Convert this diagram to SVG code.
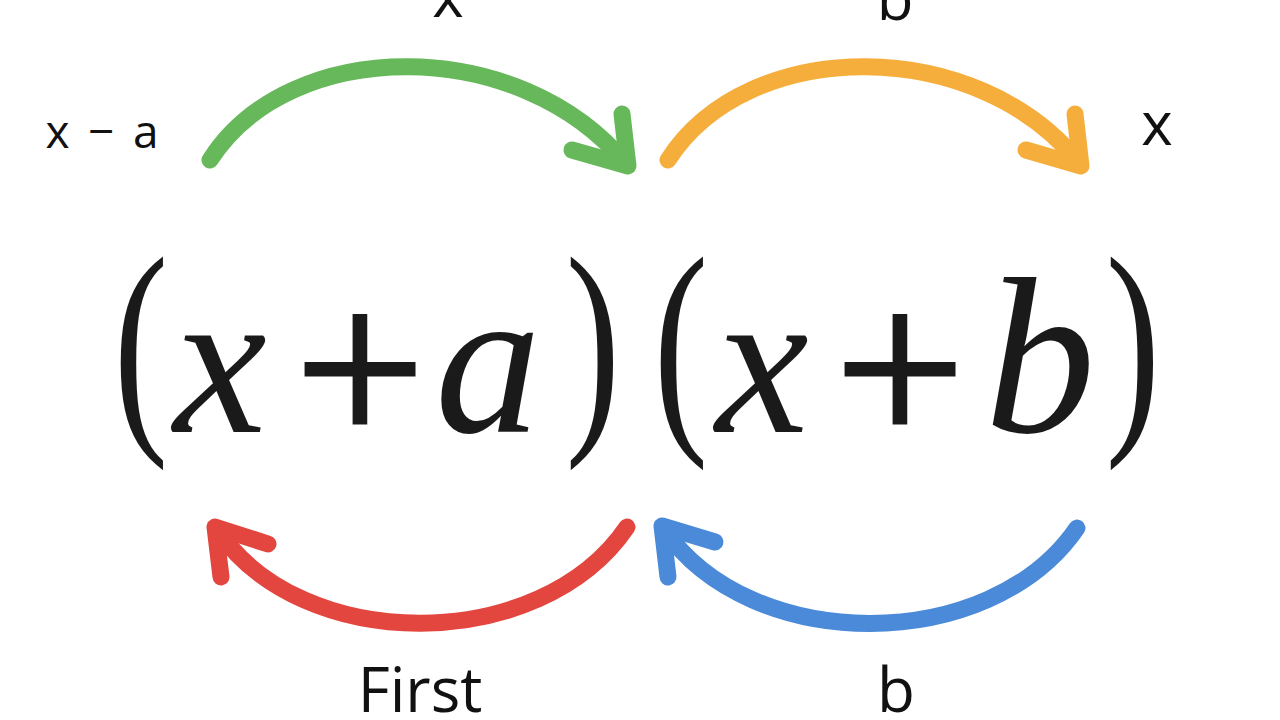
<svg xmlns="http://www.w3.org/2000/svg" width="1280" height="720" viewBox="0 0 1280 720">
<style>
.math{font-family:"Liberation Serif","DejaVu Serif",serif;fill:#1a1a1a;text-anchor:middle}
.it{font-style:italic}
.plus{stroke:#1a1a1a;stroke-width:3}
.lbl{font-family:"Open Sans","Noto Sans","Liberation Sans",sans-serif;fill:#111;text-anchor:middle}
.arc{fill:none;stroke-width:17;stroke-linecap:round;stroke-linejoin:round}
</style>
<rect width="1280" height="720" fill="#ffffff"/>
<g id="expression">
<text class="math" transform="translate(141,420) scale(0.7,1)" font-size="235">(</text>
<text class="math it" x="220" y="432" font-size="210">x</text>
<text class="math plus" x="360" y="446" font-size="232">+</text>
<text class="math it" x="488" y="432" font-size="212">a</text>
<text class="math" transform="translate(593,420) scale(0.7,1)" font-size="235">)</text>
<text class="math" transform="translate(681,420) scale(0.7,1)" font-size="235">(</text>
<text class="math it" x="762" y="432" font-size="210">x</text>
<text class="math plus" x="900" y="446" font-size="232">+</text>
<text class="math it" x="1040" y="432" font-size="222">b</text>
<text class="math" transform="translate(1133,420) scale(0.7,1)" font-size="235">)</text>
</g>
<g id="connectors">
<g id="green-arrow" stroke="#67b85a">
<path class="arc" d="M210,160 C290,35 520,35 626,164"/>
<path class="arc" d="M622,114 L628,166 L572,150"/>
</g>
<g id="orange-arrow" stroke="#f5ae3c">
<path class="arc" d="M668,160 C748,35 978,35 1080,164"/>
<path class="arc" d="M1075,114 L1081,166 L1026,150"/>
</g>
<g id="red-arrow" stroke="#e2463f">
<path class="arc" d="M627,527 C540,655 300,655 217,529"/>
<path class="arc" d="M268,544 L215,527 L221,577"/>
</g>
<g id="blue-arrow" stroke="#4a8ad8">
<path class="arc" d="M1077,528 C990,655 750,655 664,529"/>
<path class="arc" d="M715,542 L662,526 L668,577"/>
</g>
</g>
<g id="labels">
<text class="lbl" x="102" y="148" font-size="46" textLength="113">x − a</text>
<text class="lbl" x="448" y="17" font-size="60">x</text>
<text class="lbl" x="895" y="20" font-size="60">b</text>
<text class="lbl" x="1157" y="145" font-size="60">x</text>
<text class="lbl" x="420" y="712" font-size="62">First</text>
<text class="lbl" x="896" y="712" font-size="62">b</text>
</g>
</svg>
